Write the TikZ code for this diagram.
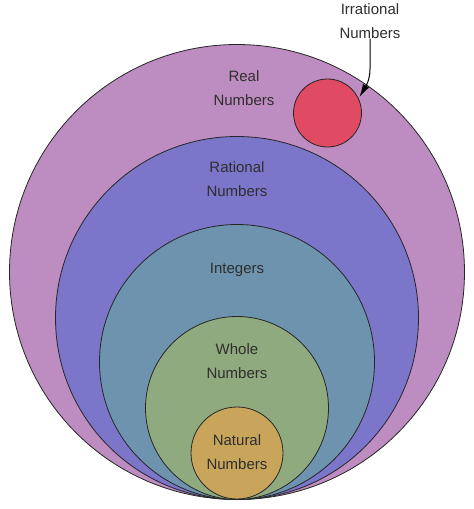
\documentclass[tikz,border=0pt]{standalone}
\usepackage{fontspec}
\setmainfont{Liberation Sans}
\usetikzlibrary{arrows.meta}
\definecolor{realc}{HTML}{BD8CC1}
\definecolor{ratc}{HTML}{7B76C9}
\definecolor{intc}{HTML}{6E93AE}
\definecolor{wholec}{HTML}{8EAA7E}
\definecolor{natc}{HTML}{C9A55C}
\definecolor{irrc}{HTML}{E04A62}
\definecolor{txt}{HTML}{2E2E2E}
\begin{document}
\begin{tikzpicture}[x=1pt,y=-1pt,
  setc/.style={circle,draw=black!85,line width=0.8pt,inner sep=0pt,minimum size=#1},
  lbl/.style={text=txt,font=\fontsize{15}{24}\selectfont,align=center,inner sep=0pt}]
\useasboundingbox (0,0) rectangle (474,509);
\node[setc=455pt,fill=realc] (real) at (237,272) {};
\node[setc=363pt,fill=ratc] (rat) at (237,318) {};
\node[setc=275pt,fill=intc] (int) at (237,362) {};
\node[setc=183pt,fill=wholec] (whole) at (237,408) {};
\node[setc=92pt,fill=natc] (nat) at (237,453) {};
\node[setc=68pt,fill=irrc] (irr) at (327.5,113) {};
\node[lbl] (lreal) at (244,88) {Real\\Numbers};
\node[lbl] (lrat) at (237,179) {Rational\\Numbers};
\node[lbl] (lint) at (237,270) {Integers};
\node[lbl] (lwhole) at (237,361) {Whole\\Numbers};
\node[lbl] (lnat) at (237,452) {Natural\\Numbers};
\node[lbl] (lirr) at (370,21) {Irrational\\Numbers};
\coordinate (tip) at (359.5,97);
\draw[line width=1pt,-{Latex[length=13pt,width=7pt]}] (lirr.south) -- ++(0,30) to[out=-90,in=60] (tip);
\end{tikzpicture}
\end{document}
